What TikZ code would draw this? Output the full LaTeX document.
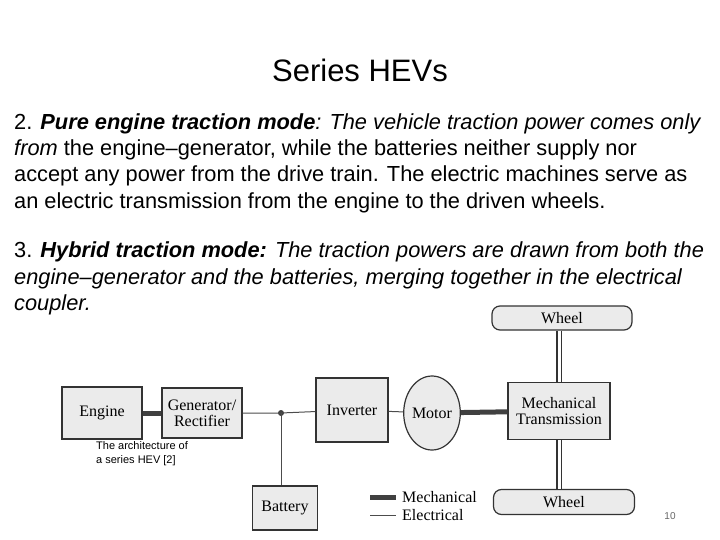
\documentclass[tikz,border=0pt]{standalone}
\usepackage{fontspec}
\usetikzlibrary{shapes.geometric}
\setmainfont{Liberation Sans}
\newfontfamily\dserif{Liberation Serif}
\begin{document}
\begin{tikzpicture}[x=1pt,y=-1pt,
  txt/.style={anchor=base west,inner sep=0pt,font=\fontsize{21.8}{24}\selectfont},
  blk/.style={draw=black!80,line width=1.2pt,fill=black!8,font=\dserif\fontsize{16}{16}\selectfont,align=center,inner sep=1pt},
  mech/.style={line width=5pt,draw=black!75},
  elec/.style={line width=1pt,draw=black!70},
  shaft/.style={double=white,double distance=3pt,line width=1.2pt,draw=black!80}]
\useasboundingbox (0,0) rectangle (720,540);
\node[anchor=base,inner sep=0pt,font=\fontsize{31}{34}\selectfont] (title) at (360,82) {Series HEVs};
\node[txt] (l1) at (14,130) {2. \textbf{\textit{Pure engine traction mode}}\textit{: The vehicle traction power comes only}};
\node[txt] (l2) at (14,156) {\textit{from} the engine–generator, while the batteries neither supply nor};
\node[txt] (l3) at (14,182) {accept any power from the drive train. The electric machines serve as};
\node[txt] (l4) at (14,208) {an electric transmission from the engine to the driven wheels.};
\node[txt] (l5) at (14,258) {3. \textbf{\textit{Hybrid traction mode:}}\textit{ The traction powers are drawn from both the}};
\node[txt] (l6) at (14,284) {\textit{engine–generator and the batteries, merging together in the electrical}};
\node[txt] (l7) at (14,310) {\textit{coupler.}};

\node[blk,minimum width=80,minimum height=52] (eng) at (102,413) {Engine};
\node[blk,minimum width=80,minimum height=50] (gen) at (202,413) {Generator/\\Rectifier};
\node[blk,minimum width=72,minimum height=64] (inv) at (352,410) {Inverter};
\node[blk,ellipse,inner sep=0pt,minimum width=48,minimum height=74] (mot) at (432,413) {Motor};
\node[blk,minimum width=102,minimum height=57] (tr) at (559,411) {Mechanical\\Transmission};
\node[blk,rounded corners=8pt,minimum width=140,minimum height=24] (w1) at (562,318) {Wheel};
\node[blk,rounded corners=8pt,minimum width=141,minimum height=25] (w2) at (564,502) {Wheel};
\node[blk,minimum width=65,minimum height=44] (bat) at (285,508) {Battery};
\coordinate (j) at (281,413);
\fill[black!75] (j) circle (3pt);

\draw[mech] (eng) -- (gen);
\draw[elec] (gen) -- (j) -- (inv);
\draw[elec] (j) -- (j|-bat.north);
\draw[elec] (inv) -- (mot);
\draw[mech] (mot) -- (tr);
\draw[shaft] (w1.south-|tr) -- (tr.north);
\draw[shaft] (tr.south) -- (w2.north-|tr);

\coordinate (m1) at (370,497); \coordinate (m2) at (396,497);
\coordinate (e1) at (370,515); \coordinate (e2) at (396,515);
\draw[mech] (m1) -- (m2);
\draw[elec] (e1) -- (e2);
\node[anchor=west,inner sep=0pt,font=\dserif\fontsize{16}{16}\selectfont] (lm) at (402,497) {Mechanical};
\node[anchor=west,inner sep=0pt,font=\dserif\fontsize{16}{16}\selectfont] (le) at (402,515) {Electrical};

\node[anchor=north west,align=left,inner sep=0pt,font=\fontsize{11}{14}\selectfont] (cap) at (96,441) {The architecture of\\a series HEV [2]};
\node[anchor=base,inner sep=0pt,font=\fontsize{10}{12}\selectfont,text=black!60] (pg) at (670,519) {10};
\end{tikzpicture}
\end{document}
